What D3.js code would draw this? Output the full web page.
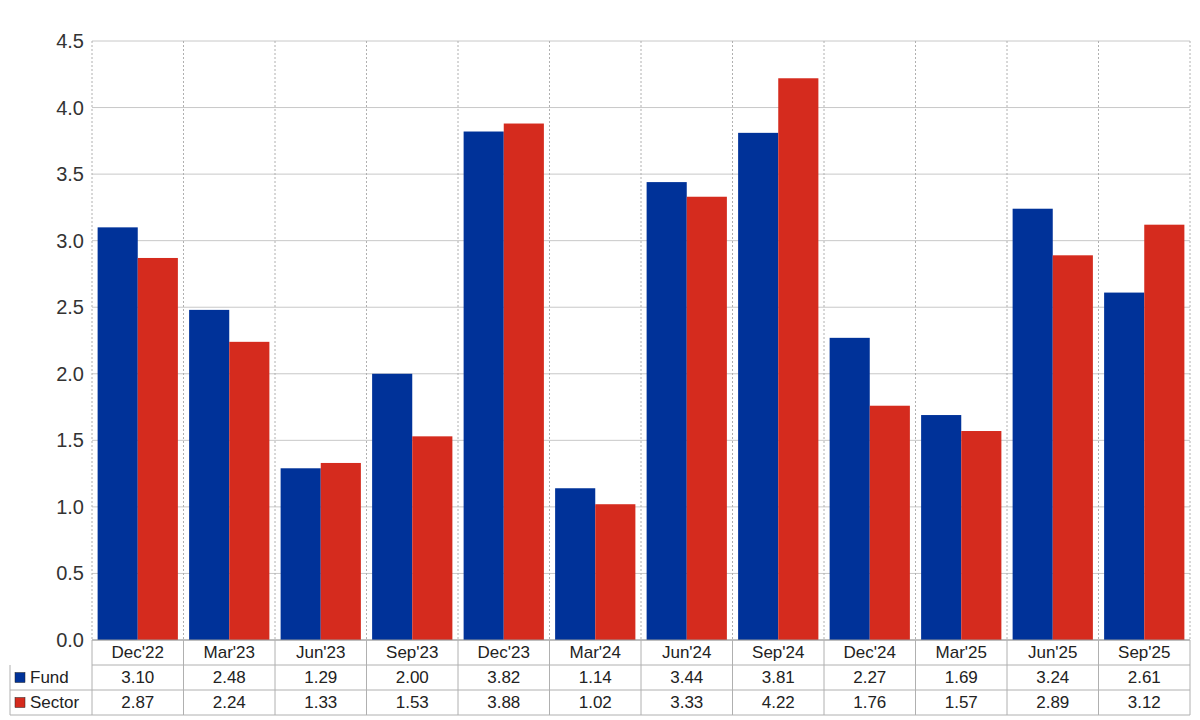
<!DOCTYPE html>
<html lang="en">
<head>
<meta charset="UTF-8">
<script src="https://cdn.jsdelivr.net/npm/d3@7"></script>
<style>
  body { margin: 0; background: #fff; font-family: Arial, "Liberation Sans", sans-serif; }
</style>
</head>
<body>
<svg id="chart" width="1200" height="720"></svg>
<script>
// chart data
const categories = ["Dec'22", "Mar'23", "Jun'23", "Sep'23", "Dec'23", "Mar'24", "Jun'24", "Sep'24", "Dec'24", "Mar'25", "Jun'25", "Sep'25"];
const fund = [3.10, 2.48, 1.29, 2.00, 3.82, 1.14, 3.44, 3.81, 2.27, 1.69, 3.24, 2.61];
const sector = [2.87, 2.24, 1.33, 1.53, 3.88, 1.02, 3.33, 4.22, 1.76, 1.57, 2.89, 3.12];
const yTicks = [0, 0.5, 1, 1.5, 2, 2.5, 3, 3.5, 4, 4.5];

const series = [
  { name: "Fund", values: fund, color: "#003299" },
  { name: "Sector", values: sector, color: "#d52b1e" }
];

const plotLeft = 92, plotRight = 1190, plotTop = 41, plotBottom = 640;
const rowH = 25, tableLeft = 10;

const svg = d3.select("#chart");

const x = d3.scaleBand().domain(categories).range([plotLeft, plotRight]);
const xInner = d3.scaleBand().domain(series.map(s => s.name))
  .range([0, x.bandwidth()]).paddingOuter(0.14);
const y = d3.scaleLinear().domain([0, 4.5]).range([plotBottom, plotTop]);

// horizontal gridlines
svg.append("g").selectAll("line").data(yTicks).join("line")
  .attr("x1", plotLeft).attr("x2", plotRight)
  .attr("y1", d => y(d)).attr("y2", d => y(d))
  .attr("stroke", "#c8c8c8").attr("stroke-width", 1);

// vertical dotted separators
const seps = categories.map(c => x(c)).concat([plotRight]);
svg.append("g").selectAll("line").data(seps).join("line")
  .attr("x1", d => d).attr("x2", d => d)
  .attr("y1", plotTop).attr("y2", plotBottom)
  .attr("stroke", "#b0b0b0").attr("stroke-dasharray", "2,2");

// y axis labels
svg.append("g").selectAll("text").data(yTicks).join("text")
  .attr("x", plotLeft - 8).attr("y", d => y(d))
  .attr("dy", "0.35em").attr("text-anchor", "end")
  .attr("font-size", 20).attr("fill", "#333")
  .text(d => d.toFixed(1));

// bars
series.forEach(s => {
  svg.append("g").selectAll("rect").data(categories).join("rect")
    .attr("x", c => x(c) + xInner(s.name))
    .attr("width", xInner.bandwidth())
    .attr("y", (c, i) => y(s.values[i]))
    .attr("height", (c, i) => plotBottom - y(s.values[i]))
    .attr("fill", s.color);
});

// axis line
svg.append("line").attr("x1", plotLeft).attr("x2", plotRight)
  .attr("y1", plotBottom).attr("y2", plotBottom).attr("stroke", "#999");

// data table
const table = svg.append("g");
const rows = [{ label: null }, ...series.map(s => ({ label: s.name, color: s.color, values: s.values }))];
rows.forEach((r, ri) => {
  const ry = plotBottom + ri * rowH;
  table.append("line")
    .attr("x1", ri === 0 ? plotLeft : tableLeft).attr("x2", plotRight)
    .attr("y1", ry + rowH).attr("y2", ry + rowH)
    .attr("stroke", "#b0b0b0");
  categories.forEach((c, i) => {
    table.append("text")
      .attr("x", x(c) + x.bandwidth() / 2).attr("y", ry + rowH / 2)
      .attr("dy", "0.35em").attr("text-anchor", "middle")
      .attr("font-size", 17).attr("fill", "#222")
      .text(r.label ? r.values[i].toFixed(2) : c);
  });
  if (r.label) {
    table.append("rect").attr("x", tableLeft + 5).attr("y", ry + rowH / 2 - 5)
      .attr("width", 10).attr("height", 10).attr("fill", r.color)
      .attr("stroke", "#222").attr("stroke-width", 0.5);
    table.append("text").attr("x", tableLeft + 20).attr("y", ry + rowH / 2)
      .attr("dy", "0.35em").attr("font-size", 17).attr("fill", "#222")
      .text(r.label);
  }
});
// table verticals
seps.forEach(sx => table.append("line").attr("x1", sx).attr("x2", sx)
  .attr("y1", plotBottom).attr("y2", plotBottom + 3 * rowH).attr("stroke", "#b0b0b0"));
table.append("line").attr("x1", tableLeft).attr("x2", tableLeft)
  .attr("y1", plotBottom + rowH).attr("y2", plotBottom + 3 * rowH).attr("stroke", "#b0b0b0");
</script>
</body>
</html>
